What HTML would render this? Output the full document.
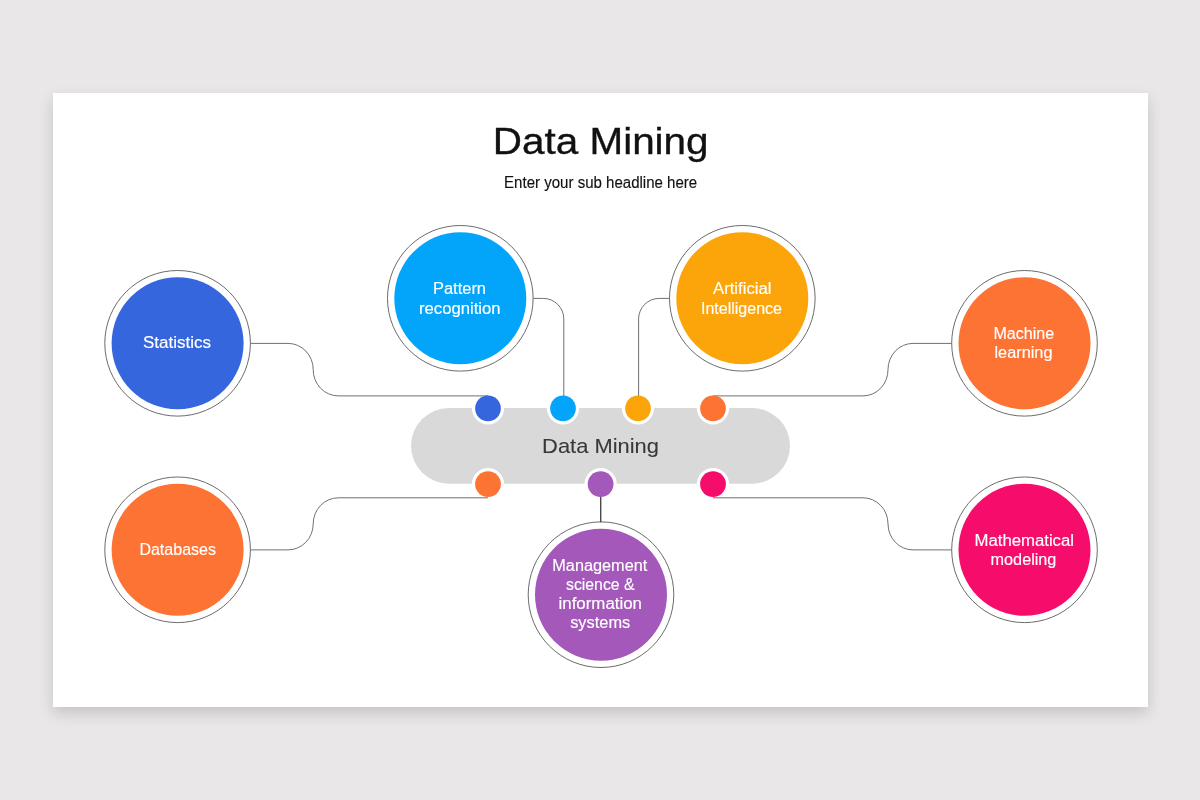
<!DOCTYPE html>
<html lang="en">
<head>
<meta charset="utf-8">
<title>Data Mining</title>
<style>
html,body{margin:0;padding:0;}
body{width:1200px;height:800px;overflow:hidden;background:#e9e7e8;font-family:"Liberation Sans",sans-serif;position:relative;}
#slide{position:absolute;left:53px;top:93px;width:1095px;height:614px;background:#fff;box-shadow:0 6px 14px rgba(0,0,0,0.16);}
svg{position:absolute;left:0;top:0;will-change:transform;}
text{font-family:"Liberation Sans",sans-serif;}
.ring{fill:none;stroke:#5a5a5a;stroke-width:0.9;}
.conn{fill:none;stroke:#707070;stroke-width:1;}
.halo{fill:#fff;}
</style>
</head>
<body>
<div id="slide"></div>
<svg width="1200" height="800" viewBox="0 0 1200 800">
  <!-- title -->
  <text x="492.80" y="153.7" font-size="37.5" fill="#111" stroke="#111" stroke-width="0.35" textLength="215.80" lengthAdjust="spacingAndGlyphs">Data Mining</text>
  <text x="504.10" y="187.8" font-size="16" fill="#111" stroke="#111" stroke-width="0.15" textLength="193.10" lengthAdjust="spacingAndGlyphs">Enter your sub headline here</text>

  <!-- pill -->
  <rect x="411" y="408" width="379" height="75.7" rx="37.85" fill="#d9d9d9"/>
  <text x="542.10" y="453" font-size="20.7" fill="#383838" stroke="#383838" stroke-width="0.1" textLength="116.90" lengthAdjust="spacingAndGlyphs">Data Mining</text>

  <!-- dot halos -->
  <circle class="halo" cx="488" cy="408.3" r="16.1"/>
  <circle class="halo" cx="563" cy="408.3" r="16.1"/>
  <circle class="halo" cx="638" cy="408.3" r="16.1"/>
  <circle class="halo" cx="713" cy="408.3" r="16.1"/>
  <circle class="halo" cx="488" cy="484.1" r="16.1"/>
  <circle class="halo" cx="600.6" cy="484.1" r="16.1"/>
  <circle class="halo" cx="713" cy="484.1" r="16.1"/>

  <!-- connectors -->
  <path class="conn" d="M250.6,343.4 H288 A25.2,26.1 0 0 1 313.2,369.5 A25.2,26.1 0 0 0 338.4,395.9 H488"/>
  <path class="conn" d="M533.3,298.4 H543.3 A20.5,20.5 0 0 1 563.8,318.9 V396"/>
  <path class="conn" d="M669.3,298.4 H659.1 A20.5,20.5 0 0 0 638.6,318.9 V396"/>
  <path class="conn" d="M951.5,343.4 H913 A25,26.1 0 0 0 888,369.5 A25,26.1 0 0 1 863,395.9 H713"/>
  <path class="conn" d="M250.6,549.9 H288 A25.2,26.05 0 0 0 313.2,523.85 A25.2,26.05 0 0 1 338.4,497.8 H488"/>
  <path class="conn" d="M951.5,549.9 H913 A25,26.05 0 0 1 888,523.85 A25,26.05 0 0 0 863,497.8 H713"/>
  <path d="M600.7,496 V522.2" fill="none" stroke="#4a4a4a" stroke-width="1.4"/>

  <!-- dots -->
  <circle cx="488" cy="408.4" r="12.85" fill="#3566de"/>
  <circle cx="563" cy="408.4" r="12.85" fill="#03a5fb"/>
  <circle cx="638" cy="408.4" r="12.85" fill="#fca50b"/>
  <circle cx="713" cy="408.4" r="12.85" fill="#fd7334"/>
  <circle cx="488" cy="484.1" r="12.9" fill="#fd7334"/>
  <circle cx="600.6" cy="484.1" r="12.9" fill="#a458ba"/>
  <circle cx="713" cy="484.1" r="12.9" fill="#f60d6c"/>

  <!-- big circles -->
  <g>
    <circle class="ring" cx="177.6" cy="343.3" r="72.8"/><circle cx="177.6" cy="343.3" r="66" fill="#3566de"/>
    <text x="143.00" y="348.3" font-size="16" fill="#fff" stroke="#fff" stroke-width="0.15" textLength="68.00" lengthAdjust="spacingAndGlyphs">Statistics</text>
  </g>
  <g>
    <circle class="ring" cx="460.3" cy="298.3" r="72.8"/><circle cx="460.3" cy="298.3" r="66" fill="#03a5fb"/>
    <text x="433.00" y="294.4" font-size="16" fill="#fff" stroke="#fff" stroke-width="0.15" textLength="53.00" lengthAdjust="spacingAndGlyphs">Pattern</text><text x="419.00" y="313.5" font-size="16" fill="#fff" stroke="#fff" stroke-width="0.15" textLength="81.50" lengthAdjust="spacingAndGlyphs">recognition</text>
  </g>
  <g>
    <circle class="ring" cx="742.3" cy="298.3" r="72.8"/><circle cx="742.3" cy="298.3" r="66" fill="#fca50b"/>
    <text x="713.00" y="294.4" font-size="16" fill="#fff" stroke="#fff" stroke-width="0.15" textLength="58.50" lengthAdjust="spacingAndGlyphs">Artificial</text><text x="701.00" y="313.5" font-size="16" fill="#fff" stroke="#fff" stroke-width="0.15" textLength="81.00" lengthAdjust="spacingAndGlyphs">Intelligence</text>
  </g>
  <g>
    <circle class="ring" cx="1024.5" cy="343.3" r="72.8"/><circle cx="1024.5" cy="343.3" r="66" fill="#fd7334"/>
    <text x="993.40" y="339.3" font-size="16" fill="#fff" stroke="#fff" stroke-width="0.15" textLength="60.70" lengthAdjust="spacingAndGlyphs">Machine</text><text x="994.50" y="358.3" font-size="16" fill="#fff" stroke="#fff" stroke-width="0.15" textLength="58.00" lengthAdjust="spacingAndGlyphs">learning</text>
  </g>
  <g>
    <circle class="ring" cx="177.6" cy="549.8" r="72.8"/><circle cx="177.6" cy="549.8" r="66" fill="#fd7334"/>
    <text x="139.40" y="555.4" font-size="16" fill="#fff" stroke="#fff" stroke-width="0.15" textLength="76.60" lengthAdjust="spacingAndGlyphs">Databases</text>
  </g>
  <g>
    <circle class="ring" cx="601" cy="594.7" r="72.8"/><circle cx="601" cy="594.7" r="66" fill="#a458ba"/>
    <text x="552.30" y="571" font-size="16" fill="#fff" stroke="#fff" stroke-width="0.15" textLength="94.95" lengthAdjust="spacingAndGlyphs">Management</text><text x="566.00" y="590" font-size="16" fill="#fff" stroke="#fff" stroke-width="0.15" textLength="68.50" lengthAdjust="spacingAndGlyphs">science &amp;</text><text x="558.50" y="609" font-size="16" fill="#fff" stroke="#fff" stroke-width="0.15" textLength="83.50" lengthAdjust="spacingAndGlyphs">information</text><text x="570.20" y="628.4" font-size="16" fill="#fff" stroke="#fff" stroke-width="0.15" textLength="60.00" lengthAdjust="spacingAndGlyphs">systems</text>
  </g>
  <g>
    <circle class="ring" cx="1024.5" cy="549.8" r="72.8"/><circle cx="1024.5" cy="549.8" r="66" fill="#f60d6c"/>
    <text x="974.50" y="545.6" font-size="16" fill="#fff" stroke="#fff" stroke-width="0.15" textLength="99.50" lengthAdjust="spacingAndGlyphs">Mathematical</text><text x="990.60" y="564.6" font-size="16" fill="#fff" stroke="#fff" stroke-width="0.15" textLength="65.80" lengthAdjust="spacingAndGlyphs">modeling</text>
  </g>
</svg>
</body>
</html>
